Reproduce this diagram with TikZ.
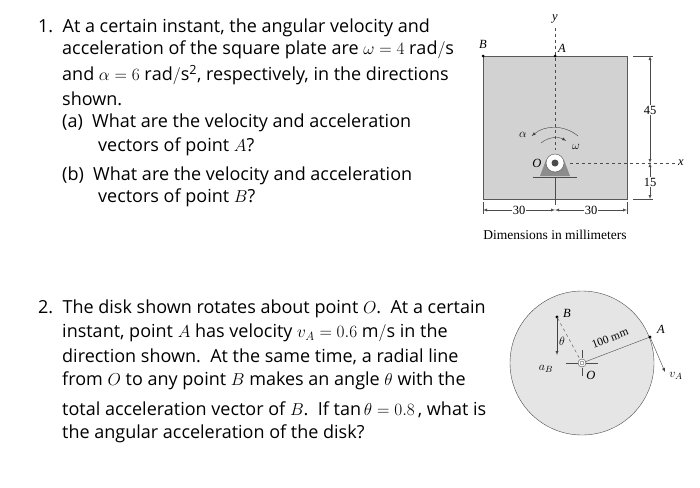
\documentclass[tikz,border=0pt]{standalone}
\usepackage{fontspec}
\setmainfont{Open Sans}
\newfontfamily\serifx{Liberation Serif}
\begin{document}
\begin{tikzpicture}[x=1pt,y=-1pt,
  tl/.style={anchor=west,inner sep=0pt,font=\fontsize{18}{20}\selectfont},
  sm/.style={inner sep=1pt,font=\serifx\fontsize{12.5}{13}\selectfont},
  it/.style={sm,font=\serifx\itshape\fontsize{12.5}{13}\selectfont},
  dim/.style={gray!60!black,thin,-latex}]
\useasboundingbox (0,0) rectangle (700,487);
% problem 1 text
\node[tl] (t1) at (38,28) {1.\ \ At a certain instant, the angular velocity and};
\node[tl] (t2) at (62,50) {acceleration of the square plate are $\omega=4\ \mathrm{rad/s}$};
\node[tl] (t3) at (62,75) {and $\alpha=6\ \mathrm{rad/s^2}$, respectively, in the directions};
\node[tl] (t4) at (62,99) {shown.};
\node[tl] (t5) at (62,123) {(a)\ \ What are the velocity and acceleration};
\node[tl] (t6) at (98,147) {vectors of point $A$?};
\node[tl] (t7) at (62,176) {(b)\ \ What are the velocity and acceleration};
\node[tl] (t8) at (98,198) {vectors of point $B$?};
% problem 2 text
\node[tl] (s1) at (38,309) {2.\ \ The disk shown rotates about point $O$.\ \ At a certain};
\node[tl] (s2) at (62,333) {instant, point $A$ has velocity $v_{A}=0.6\ \mathrm{m/s}$ in the};
\node[tl] (s3) at (62,357) {direction shown.\ \ At the same time, a radial line};
\node[tl] (s4) at (62,381) {from $O$ to any point $B$ makes an angle $\theta$ with the};
\node[tl] (s5) at (62,410) {total acceleration vector of $B$.\ \ If $\tan\theta=0.8$\,, what is};
\node[tl] (s6) at (62,434) {the angular acceleration of the disk?};
% plate
\draw[gray!70!black,fill=gray!35] (483,56) rectangle (627,199);
\coordinate (O) at (555,163);
\draw[dashed,gray!60!black] (555,28) -- (555,150);
\draw[gray!60!black] (555,178) -- (555,205);
\draw[dashed,gray!60!black] (570,163) -- (675,163);
\node[it] (ylab) at (555,19) {y};
\node[it] (xlab) at (681,163) {x};
\fill (555,56) circle (1.5);
\node[it,anchor=south west] (A) at (557,54) {A};
\fill (483,56) circle (1.5);
\node[it] (B) at (483,44) {B};
% support
\fill[gray!50!black!60] (540,176) -- (546,160) -- (564,160) -- (570,176) -- cycle;
\draw[gray!60!black] (533,177) -- (577,177);
\fill[white] (O) circle (9);
\draw[gray!60!black] (O) circle (9);
\fill[gray!60!black] (O) circle (3.5);
\node[it] (Olab) at (537,163) {O};
\draw[gray!50!black,-latex] (578,136) arc[start angle=-50,end angle=-130,radius=36];
\draw[gray!50!black,-latex] (541,143) arc[start angle=-130,end angle=-60,radius=22];
\node[sm] (al) at (523,135) {$\alpha$};
\node[sm] (om) at (576,147) {$\omega$};
% dims
\draw[gray!60!black,thin] (633,56) -- (653,56) (633,199) -- (653,199) (483,202)--(483,214) (627,202)--(627,214);
\node[sm] (d45) at (650,110) {45};
\node[sm] (d15) at (650,182) {15};
\draw[dim] (d45) -- (650,56); \draw[dim] (d45) -- (650,163);
\draw[dim] (d15) -- (650,163); \draw[dim] (d15) -- (650,199);
\node[sm] (d30a) at (519,210) {30};
\node[sm] (d30b) at (591,210) {30};
\draw[dim] (d30a) -- (483,210); \draw[dim] (d30a) -- (555,210);
\draw[dim] (d30b) -- (555,210); \draw[dim] (d30b) -- (627,210);
\node[sm,font=\serifx\fontsize{13.5}{14}\selectfont] (cap) at (555,235) {Dimensions in millimeters};
% disk
\coordinate (D) at (582,363);
\draw[gray!60!black,fill=gray!20] (D) circle (72);
\coordinate (PA) at (650,337);
\coordinate (PB) at (557,317);
\draw[gray!60!black] (D) -- (PA);
\draw[gray!60!black,dashed] (D) -- (PB);
\draw[gray!60!black] (566,363) -- (598,363) (582,350) -- (582,358) (582,368) -- (582,376);
\fill[white] (D) circle (4); \draw[gray!60!black] (D) circle (4) (D) circle (2);
\fill (PA) circle (1.6); \fill (PB) circle (1.6);
\node[it] (Alab) at (661,329) {A};
\node[it] (Blab) at (567,313) {B};
\node[it] (Ol) at (591,375) {O};
\node[sm] (th) at (562,341) {$\theta$};
\node[sm,inner sep=0pt,rotate=21,font=\serifx\fontsize{11.5}{12}\selectfont] (mm) at (610,338) {100 mm};
\draw[gray!50!black,-latex] (PB) -- (557,355);
\node[sm] (aB) at (546,369) {$a_B$};
\draw[gray!50!black,-latex] (PA) -- (665,372);
\node[sm] (vA) at (676,376) {$v_A$};
\end{tikzpicture}
\end{document}
